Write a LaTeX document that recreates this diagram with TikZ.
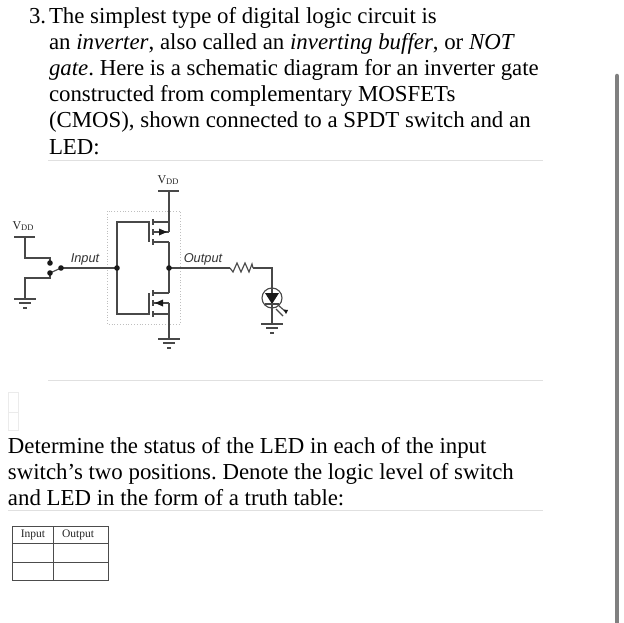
\documentclass[tikz,border=0pt]{standalone}
\usepackage{fontspec}
\setmainfont{Liberation Serif}
\setsansfont{Liberation Sans}
\definecolor{wirec}{HTML}{484848}
\tikzset{
 x=1pt,y=-1pt,
 body/.style={anchor=base west,inner sep=0pt,outer sep=0pt,font=\fontsize{22.85}{26}\selectfont\frenchspacing,text=black},
 rulel/.style={draw=black!12,line width=0.8pt},
 wire/.style={draw=wirec,line width=1.15pt},
 bar/.style={draw=wirec,line width=1.15pt},
 jdot/.style={circle,fill=black!90,inner sep=0pt,minimum size=5.6pt},
 vdd/.style={inner sep=0pt,font=\fontsize{12}{12}\selectfont,text=black!85},
 siglab/.style={inner sep=0pt,font=\sffamily\itshape\fontsize{12.8}{13}\selectfont,text=black!80},
 tabtxt/.style={inner sep=0pt,font=\fontsize{11.5}{12}\selectfont,text=black!85},
 tabl/.style={draw=black!70,line width=1pt},
}
\newcommand{\gnd}[2]{%
 \draw[bar] (#1-11,#2)--(#1+11,#2);
 \draw[bar] (#1-6,#2+4)--(#1+6,#2+4);
 \draw[bar] (#1-2,#2+9)--(#1+2,#2+9);}
\begin{document}
\begin{tikzpicture}
\useasboundingbox (0,0) rectangle (624,623);
\fill[white] (0,0) rectangle (624,623);
% text
\node[body] (n) at (29,24) {3.};
\node[body] (l1) at (49,24) {The simplest type of digital logic circuit is};
\node[body] (l2) at (49,50) {an \textit{inverter}, also called an \textit{inverting buffer}, or \textit{NOT}};
\node[body] (l3) at (49,76) {\textit{gate}. Here is a schematic diagram for an inverter gate};
\node[body] (l4) at (49,102) {constructed from complementary MOSFETs};
\node[body] (l5) at (49,128) {(CMOS), shown connected to a SPDT switch and an};
\node[body] (l6) at (49,154) {LED:};
\draw[rulel] (48,160)--(543,160);
\draw[rulel] (48,380)--(543,380);
\draw[rulel] (8,510.5)--(543,510.5);
\node[body] (d1) at (8,453) {Determine the status of the LED in each of the input};
\node[body] (d2) at (8,479) {switch’s two positions. Denote the logic level of switch};
\node[body] (d3) at (8,505) {and LED in the form of a truth table:};
% placeholder
\draw[draw=black!8,line width=1pt] (8,392) rectangle (18,412);
\draw[draw=black!8,line width=1pt] (8,412) rectangle (18,430);
% scrollbar
\draw[draw=black!50,line width=4.5pt,line cap=round] (617,76)--(617,623);
% dotted box
\draw[draw=black!25,line width=0.8pt,dotted] (107,211) rectangle (180,324);
% nodes and coordinates
\coordinate (vl) at (25,237);
\coordinate (gl) at (25,299);
\coordinate (c1p) at (50,263);
\coordinate (c2p) at (50,273);
\coordinate (polep) at (61,268);
\coordinate (ginp) at (117,268);
\coordinate (goutp) at (169,268);
\coordinate (vt) at (169,191);
\coordinate (gb) at (169,339);
\coordinate (rl) at (230,268);
\coordinate (rr) at (253,268);
\node[circle,draw=wirec,line width=1.15pt,inner sep=0pt,minimum size=20pt] (led) at (272,298) {};
\coordinate (gled) at (272,324);
% VDD labels
\node[vdd] at (23,226) {V\raisebox{-1.5pt}{\fontsize{8.5}{9}\selectfont DD}};
\node[vdd] at (168,180) {V\raisebox{-1.5pt}{\fontsize{8.5}{9}\selectfont DD}};
% switch
\draw[bar] (14,237)--(35,237);
\draw[wire] (vl)--(25,258)--(50,258)--(c1p);
\draw[wire] (gl)--(25,278)--(50,278)--(c2p);
\gnd{25}{299}
\draw[wire] (c2p)--(polep);
\draw[wire] (polep)--(ginp);
\node[siglab] at (85,259) {Input};
% gates
\draw[wire] (ginp)--(117,222)--(149,222)--(149,242);
\draw[wire] (ginp)--(117,314)--(149,314)--(149,293);
% PMOS
\draw[wire] (153,219)--(153,225) (153,229)--(153,235) (153,239)--(153,245);
\draw[wire] (153,222)--(169,222) (153,232)--(169,232) (153,242)--(169,242);
\fill[black!90] (167,232)--(159,228.5)--(159,235.5)--cycle;
\draw[bar] (158,191)--(179,191);
\draw[wire] (vt)--(169,232);
\draw[wire] (169,242)--(goutp);
% NMOS
\draw[wire] (153,290)--(153,296) (153,300)--(153,306) (153,311)--(153,317);
\draw[wire] (153,293)--(169,293) (153,303)--(169,303) (153,314)--(169,314);
\fill[black!90] (155,303)--(163,299.5)--(163,306.5)--cycle;
\draw[wire] (goutp)--(169,293);
\draw[wire] (169,303)--(gb);
\gnd{169}{339}
% output
\draw[wire] (goutp)--(rl);
\draw[wire] (rl)--(233,272)--(237,263)--(241,272)--(245,263)--(249,272)--(252,264)--(rr);
\draw[wire] (rr)--(272,268)--(led.north);
\node[siglab] at (203,259) {Output};
% junction dots, on top of the wires
\node[jdot] (c1) at (c1p) {};
\node[jdot] (c2) at (c2p) {};
\node[jdot] (pole) at (polep) {};
\node[jdot] (gin) at (ginp) {};
\node[jdot] (gout) at (goutp) {};
% LED
\draw[wire] (led.north)--(led.south);
\fill[black!90] (265,293)--(279,293)--(272,304)--cycle;
\draw[bar] (265,304)--(279,304);
\draw[wire] (led.south)--(gled);
\gnd{272}{324}
\draw[wire] (278,305)--(286,312);
\draw[wire] (276,309)--(283,316);
\fill[black!90] (288,310)--(283.5,309.5)--(286,314)--cycle;
% table
\draw[tabl] (12,526) rectangle (108,580);
\draw[tabl] (12,543)--(108,543) (12,562)--(108,562) (53,526)--(53,580);
\node[tabtxt] (ti) at (33,535) {Input};
\node[tabtxt] (to) at (78,535) {Output};
\end{tikzpicture}
\end{document}
